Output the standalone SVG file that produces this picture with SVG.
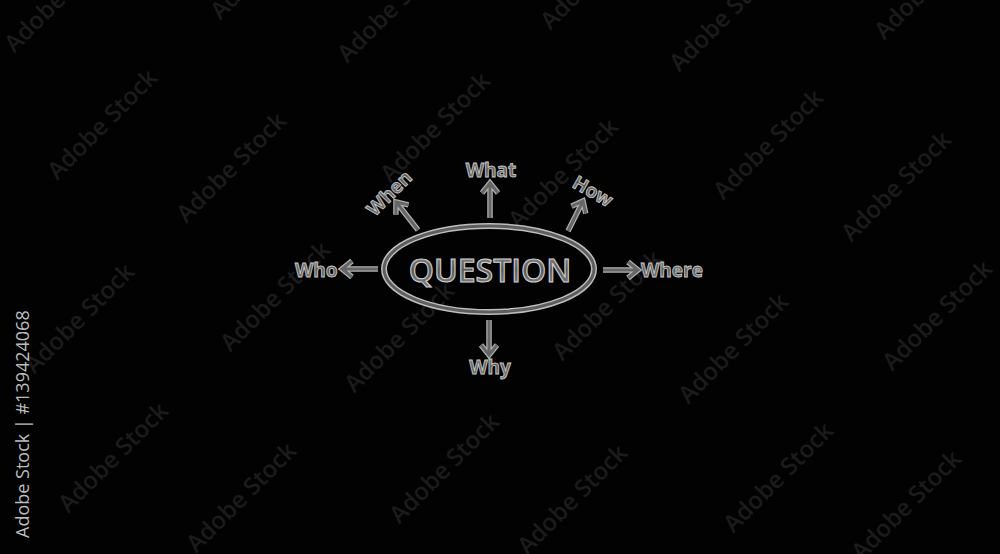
<svg xmlns="http://www.w3.org/2000/svg" width="1000" height="554" viewBox="0 0 1000 554">
  <defs>
    <linearGradient id="chrome" x1="0" y1="0" x2="0" y2="1">
      <stop offset="0" stop-color="#9a9a9a"/>
      <stop offset="0.5" stop-color="#5a5a5a"/>
      <stop offset="1" stop-color="#888888"/>
    </linearGradient>
  </defs>
  <style>
    .wm { font-family: "Open Sans", "Liberation Sans", sans-serif; font-weight: 600; font-size: 24px; fill: #1b1b1b; text-anchor: middle; }
    .lbl { font-family: "Open Sans", "DejaVu Sans", sans-serif; font-weight: 700; font-size: 19px; fill: url(#chrome); stroke: #c4c4c4; stroke-width: 0.9px; }
    .big { font-family: "Open Sans", "DejaVu Sans", sans-serif; font-weight: 600; font-size: 32px; fill: url(#chrome); stroke: #cfcfcf; stroke-width: 1.1px; text-anchor: middle; }
    .out { fill: none; stroke: #b0b0b0; stroke-width: 5.5; stroke-linecap: butt; stroke-linejoin: miter; }
    .in { fill: none; stroke: #666666; stroke-width: 3; stroke-linecap: butt; stroke-linejoin: miter; }
    .rim1 { fill: none; stroke: #bdbdbd; stroke-width: 6; }
    .rim2 { fill: none; stroke: #5e5e5e; stroke-width: 3; }
    .credit { font-family: "Open Sans", "Liberation Sans", sans-serif; font-size: 18px; fill: #bdbdbd; }
  </style>
  <rect width="1000" height="554" fill="#020202"/>

  <g id="watermarks">
    <text class="wm" transform="translate(65,3) rotate(-45)">Adobe Stock</text>
    <text class="wm" transform="translate(271,-30) rotate(-45)">Adobe Stock</text>
    <text class="wm" transform="translate(398,13) rotate(-45)">Adobe Stock</text>
    <text class="wm" transform="translate(601,-20) rotate(-45)">Adobe Stock</text>
    <text class="wm" transform="translate(730,22) rotate(-45)">Adobe Stock</text>
    <text class="wm" transform="translate(935,-10) rotate(-45)">Adobe Stock</text>
    <text class="wm" transform="translate(108,130) rotate(-45)">Adobe Stock</text>
    <text class="wm" transform="translate(237,173) rotate(-45)">Adobe Stock</text>
    <text class="wm" transform="translate(441,133) rotate(-45)">Adobe Stock</text>
    <text class="wm" transform="translate(569,179) rotate(-45)">Adobe Stock</text>
    <text class="wm" transform="translate(774,150) rotate(-45)">Adobe Stock</text>
    <text class="wm" transform="translate(902,192) rotate(-45)">Adobe Stock</text>
    <text class="wm" transform="translate(85,324) rotate(-45)">Adobe Stock</text>
    <text class="wm" transform="translate(281,302) rotate(-45)">Adobe Stock</text>
    <text class="wm" transform="translate(405,343) rotate(-45)">Adobe Stock</text>
    <text class="wm" transform="translate(613,311) rotate(-45)">Adobe Stock</text>
    <text class="wm" transform="translate(739,354) rotate(-45)">Adobe Stock</text>
    <text class="wm" transform="translate(943,321) rotate(-45)">Adobe Stock</text>
    <text class="wm" transform="translate(119,463) rotate(-45)">Adobe Stock</text>
    <text class="wm" transform="translate(247,503) rotate(-45)">Adobe Stock</text>
    <text class="wm" transform="translate(450,474) rotate(-45)">Adobe Stock</text>
    <text class="wm" transform="translate(578,505) rotate(-45)">Adobe Stock</text>
    <text class="wm" transform="translate(784,483) rotate(-45)">Adobe Stock</text>
    <text class="wm" transform="translate(912,511) rotate(-45)">Adobe Stock</text>
  </g>

  <text id="credit" class="credit" transform="translate(29,538) rotate(-90)">Adobe Stock | #139424068</text>

  <g id="connectors">
    <g id="arrow-who">
      <path class="out" d="M378,269 H343 M352,261 L342,269 L352,277"/>
      <path class="in" d="M378,269 H343 M352,261 L342,269 L352,277"/>
    </g>
    <g id="arrow-when">
      <path class="out" d="M418,230 L397,203 M408.5,204.9 L396,202 L395.9,214.8"/>
      <path class="in" d="M418,230 L397,203 M408.5,204.9 L396,202 L395.9,214.8"/>
    </g>
    <g id="arrow-what">
      <path class="out" d="M490,218 V184 M482,193 L490,183 L498,193"/>
      <path class="in" d="M490,218 V184 M482,193 L490,183 L498,193"/>
    </g>
    <g id="arrow-how">
      <path class="out" d="M568,231 L582.5,202 M571.4,206.3 L583,201 L585.7,213.5"/>
      <path class="in" d="M568,231 L582.5,202 M571.4,206.3 L583,201 L585.7,213.5"/>
    </g>
    <g id="arrow-where">
      <path class="out" d="M603,270 H637 M628,262 L638,270 L628,278"/>
      <path class="in" d="M603,270 H637 M628,262 L638,270 L628,278"/>
    </g>
    <g id="arrow-why">
      <path class="out" d="M489,320 V354 M481,345 L489,355 L497,345"/>
      <path class="in" d="M489,320 V354 M481,345 L489,355 L497,345"/>
    </g>
  </g>

  <g id="question">
    <ellipse class="rim1" cx="489" cy="269" rx="105" ry="43"/>
    <ellipse class="rim2" cx="489" cy="269" rx="105" ry="43"/>
    <text class="big" x="490" y="282">QUESTION</text>
  </g>
  <g id="who"><text class="lbl" x="295" y="277">Who</text></g>
  <g id="when"><text class="lbl" text-anchor="middle" transform="translate(389,193) rotate(-45)" y="7">When</text></g>
  <g id="what"><text class="lbl" text-anchor="middle" x="491" y="177">What</text></g>
  <g id="how"><text class="lbl" text-anchor="middle" transform="translate(593,191) rotate(30)" y="7">How</text></g>
  <g id="where"><text class="lbl" x="641" y="277">Where</text></g>
  <g id="why"><text class="lbl" text-anchor="middle" x="490" y="374">Why</text></g>
</svg>
